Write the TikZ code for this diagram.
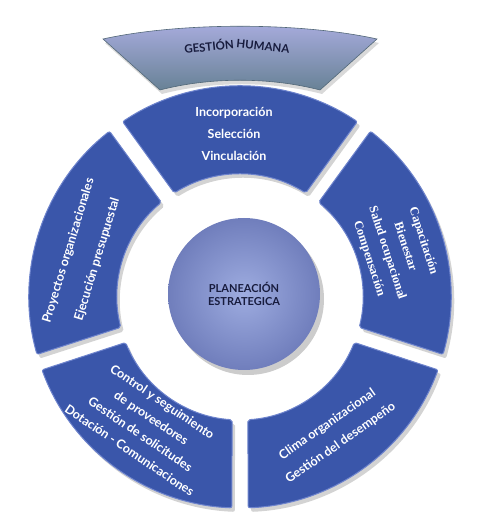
\documentclass[tikz,border=0pt]{standalone}
\usepackage{fontspec}
\setmainfont{Lato}
\newfontfamily\segserif{Liberation Serif}
\usetikzlibrary{shadows}
\definecolor{segblue}{RGB}{58,86,170}
\definecolor{segedge}{RGB}{110,132,205}
\definecolor{hubin}{RGB}{158,172,224}
\definecolor{hubout}{RGB}{112,126,188}
\definecolor{bantop}{RGB}{168,172,222}
\definecolor{banbot}{RGB}{104,130,150}
\definecolor{navy}{RGB}{24,28,62}
\newcommand{\Rout}{211pt}
\newcommand{\Rin}{123pt}
\tikzset{segment/.style = {fill=segblue, draw=segedge, line width=1pt, rounded corners=2pt,
                           drop shadow={shadow xshift=3pt, shadow yshift=-4pt, opacity=0.35}}}
\tikzset{segtext/.style = {text=white, align=center, inner sep=0}}
\tikzset{bantext/.style = {text=navy, font=\bfseries\fontsize{11.5}{14}\selectfont, inner sep=0}}
\tikzset{hub/.style = {circle, minimum size=152pt, inner color=hubin, outer color=hubout,
                       drop shadow={shadow xshift=4pt, shadow yshift=-5pt, opacity=0.4},
                       text=navy, align=center, font=\bfseries\fontsize{11}{13.5}\selectfont}}

\begin{document}
\begin{tikzpicture}[x=1pt, y=1pt]
    \useasboundingbox (-240, -221) rectangle (238, 297);

    % banner
    \path [top color=bantop, bottom color=banbot, draw=banbot!80!black, line width=0.6pt,
           drop shadow={shadow xshift=2pt, shadow yshift=-4pt, opacity=0.3}]
        (-137, 258) .. controls (-60, 275) and (60, 275) .. (137, 258)
        -- (80, 207) .. controls (30, 220) and (-30, 220) .. (-80, 207) -- cycle;
    \node [bantext, rotate=6] (gestion) at (-31, 251) {GESTIÓN};
    \node [bantext, rotate=-6] (humana) at (23, 251) {HUMANA};

    % ring
    \foreach \c in {90, 162, 234, 306, 378}
        \path [segment] (\c-36+2.2:\Rout) arc [start angle=\c-36+2.2, end angle=\c+36-2.2, radius=\Rout]
            -- (\c+36-3.7:\Rin) arc [start angle=\c+36-3.7, end angle=\c-36+3.7, radius=\Rin] -- cycle;

    \node [hub] (plan) at (4, 3) {PLANEACIÓN\\ESTRATEGICA};

    \node [segtext, font=\bfseries\fontsize{12.5}{22}\selectfont] (ingreso) at (-6, 163)
        {Incorporación\\Selección\\Vinculación};
    \node [segtext, rotate=73, font=\bfseries\fontsize{12.5}{30}\selectfont] (proyectos) at (-157, 42)
        {Proyectos organizacionales\\Ejecución presupuestal};
    \node [segtext, rotate=-72, font=\segserif\bfseries\fontsize{12.5}{19}\selectfont] (bienestar) at (156, 47)
        {Capacitación\\Bienestar\\Salud ocupacional\\Compensación};
    \node [segtext, rotate=-34, font=\bfseries\fontsize{12.5}{19.5}\selectfont] (control) at (-94, -129)
        {Control y seguimiento\\de proveedores\\Gestión de solicitudes\\Dotación - Comunicaciones};
    \node [segtext, rotate=35, font=\bfseries\fontsize{12.5}{23}\selectfont] (clima) at (94, -137)
        {Clima organizacional\\Gestión del desempeño};
\end{tikzpicture}
\end{document}
